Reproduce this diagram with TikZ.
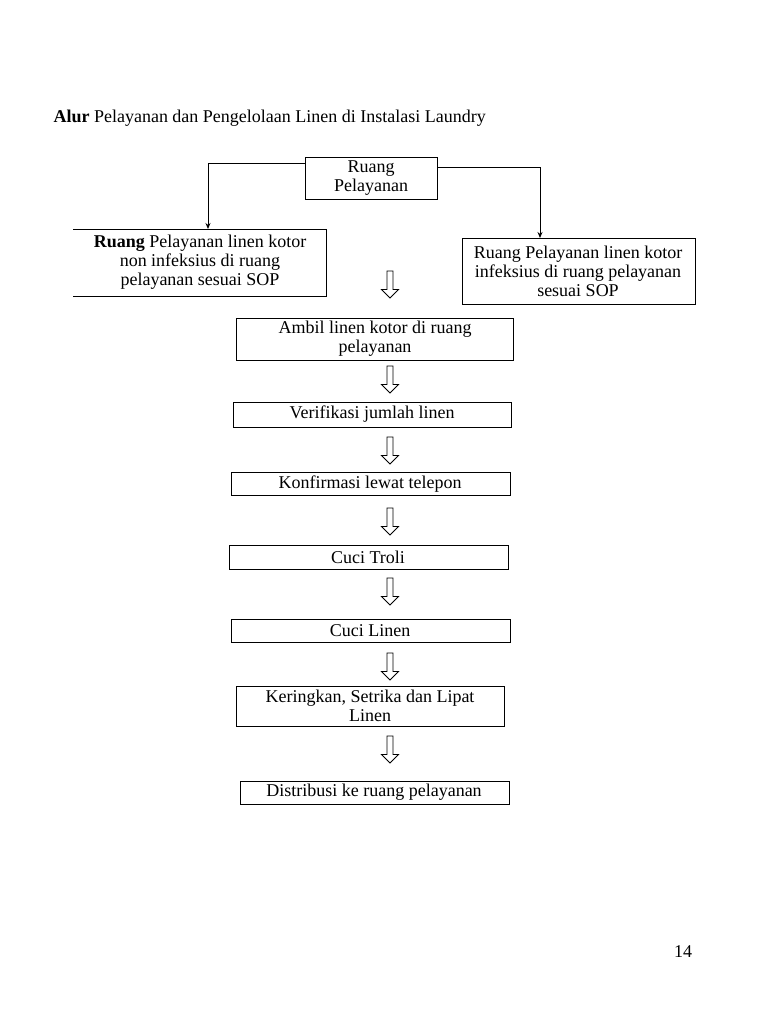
\documentclass[tikz,border=0pt]{standalone}
\usepackage{fontspec}
\setmainfont{Liberation Serif}
\usetikzlibrary{shapes.arrows,arrows.meta}
\begin{document}
\begin{tikzpicture}[x=1pt,y=-1pt,
  txt/.style={align=center,font=\fontsize{18}{19}\selectfont},
  harr/.style={single arrow,draw,line width=0.9pt,shape border rotate=270,minimum width=17pt,minimum height=27pt,single arrow head extend=4.5pt,single arrow tip angle=90,inner sep=0pt,text width=4pt},
  con/.style={line width=0.9pt,-{Stealth[length=6pt,width=5pt]}}]
\useasboundingbox (0,0) rectangle (768,1024);
\node[anchor=west,font=\fontsize{18}{19}\selectfont] (title) at (50,118) {\textbf{Alur} Pelayanan dan Pengelolaan Linen di Instalasi Laundry};
\draw[line width=0.9pt] (305,157) rectangle (437,199);
\node[txt] (ruang) at (371,178) {Ruang\\Pelayanan};
\draw[line width=0.9pt] (73,229) -- (326,229) -- (326,296) -- (73,296);
\node[txt] (left) at (200,262) {\textbf{Ruang} Pelayanan linen kotor\\non infeksius di ruang\\pelayanan sesuai SOP};
\draw[line width=0.9pt] (462,238) rectangle (695,304);
\node[txt] (right) at (578,271) {Ruang Pelayanan linen kotor\\infeksius di ruang pelayanan\\sesuai SOP};
\coordinate (lc) at (208,163);
\coordinate (rc) at (540,167);
\draw[con] (305,163) -- (lc) -- (208,229);
\draw[con] (437,167) -- (rc) -- (540,238);
\draw[line width=0.9pt] (236,318) rectangle (513,360);
\node[txt] (ambil) at (375,339) {Ambil linen kotor di ruang\\pelayanan};
\draw[line width=0.9pt] (233,402) rectangle (511,427);
\node[txt] (verif) at (372,414) {Verifikasi jumlah linen};
\draw[line width=0.9pt] (231,472) rectangle (510,495);
\node[txt] (konf) at (370,484) {Konfirmasi lewat telepon};
\draw[line width=0.9pt] (229,545) rectangle (508,569);
\node[txt] (troli) at (368,557) {Cuci Troli};
\draw[line width=0.9pt] (231,619) rectangle (510,642);
\node[txt] (linen) at (370,631) {Cuci Linen};
\draw[line width=0.9pt] (236,686) rectangle (504,726);
\node[txt] (kering) at (370,706) {Keringkan, Setrika dan Lipat\\Linen};
\draw[line width=0.9pt] (240,781) rectangle (509,804);
\node[txt] (dist) at (374,792) {Distribusi ke ruang pelayanan};
\foreach \n/\y in {a1/283,a2/378,a3/449,a4/520,a5/590,a6/665,a7/748}
  \node[harr] (\n) at (390,\y) {};
\node[font=\fontsize{18}{19}\selectfont] (pg) at (683,952) {14};
\end{tikzpicture}
\end{document}
